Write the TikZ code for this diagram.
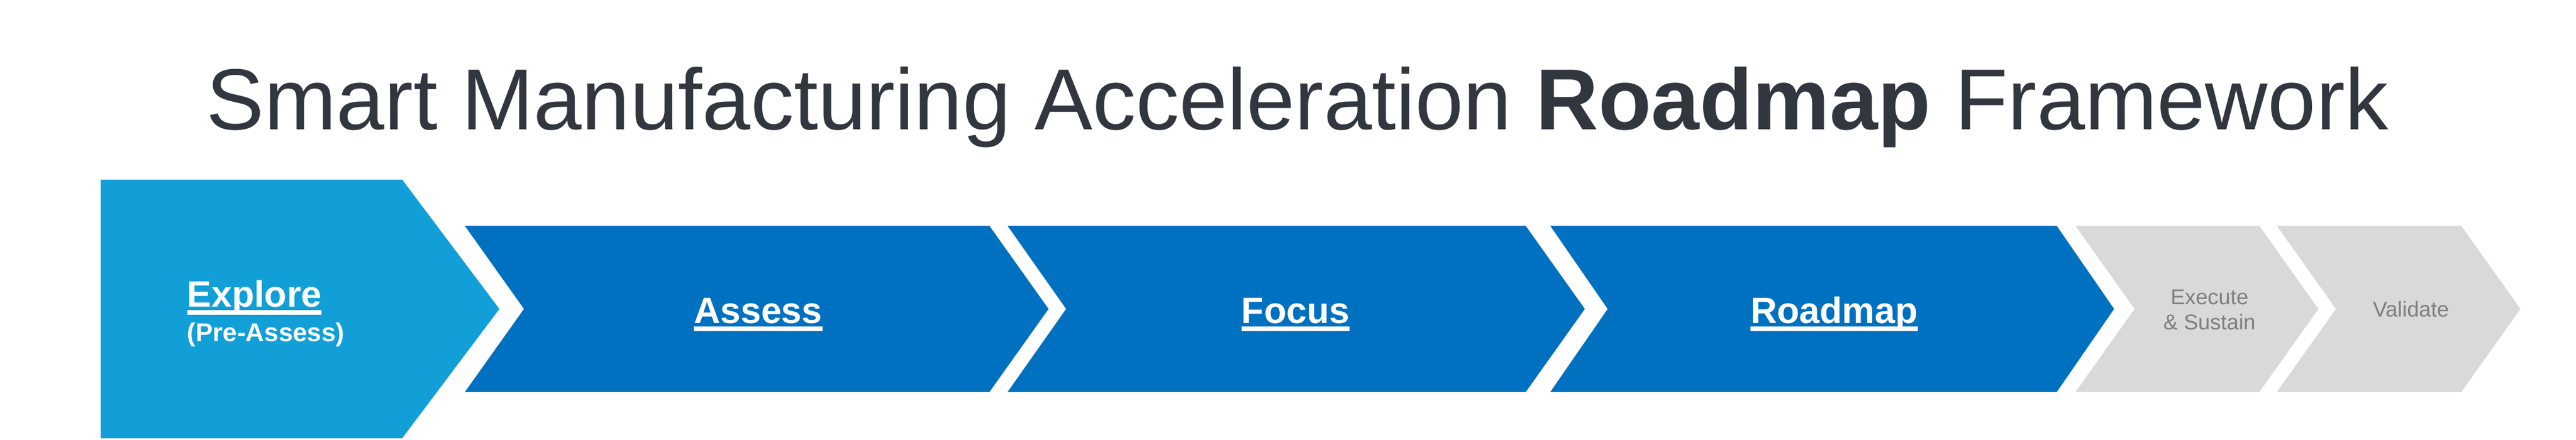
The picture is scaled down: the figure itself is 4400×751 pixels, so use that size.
\documentclass[tikz,border=0pt]{standalone}
\usepackage{fontspec}
\setmainfont{Liberation Sans}
\definecolor{titlecol}{HTML}{31363F}
\definecolor{lightblue}{HTML}{129FD7}
\definecolor{mainblue}{HTML}{0070C0}
\definecolor{greyfill}{HTML}{D9D9D9}
\definecolor{greytext}{HTML}{7F7F7F}
\newcommand{\ulin}[1]{\setbox0\hbox{#1}\rlap{\rule[-0.227em]{\wd0}{0.127em}}\box0}
\tikzset{
  lbl/.style={inner sep=0pt, text=white, font=\bfseries\fontsize{17.8}{21}\selectfont},
  sublbl/.style={inner sep=0pt, text=white, font=\bfseries\fontsize{12.5}{15}\selectfont},
  greylbl/.style={inner sep=0pt, text=greytext, font=\fontsize{10.45}{12.5}\selectfont},
}
\begin{document}
\begin{tikzpicture}[x=0.01cm,y=-0.01cm]
\useasboundingbox (0,0) rectangle (4400,751);
\fill[white] (0,0) rectangle (4400,751);
% title
\node[inner sep=0pt, anchor=base, text=titlecol, font=\fontsize{42.1}{50}\selectfont] (title) at (2216,221)
  {Smart Manufacturing Acceleration \textbf{Roadmap} Framework};
% chevrons
\fill[lightblue] (172,307) -- (687,307) -- (853,528) -- (687,749) -- (172,749) -- cycle;
\fill[mainblue] (794,386) -- (1690,386) -- (1791,528) -- (1690,670) -- (794,670) -- (895,528) -- cycle;
\fill[mainblue] (1721,386) -- (2606,386) -- (2707,528) -- (2606,670) -- (1721,670) -- (1821,528) -- cycle;
\fill[mainblue] (2648,386) -- (3513,386) -- (3611,528) -- (3513,670) -- (2648,670) -- (2746,528) -- cycle;
\fill[greyfill] (3545,386) -- (3859,386) -- (3960,528) -- (3859,670) -- (3545,670) -- (3646,528) -- cycle;
\fill[greyfill] (3889,386) -- (4204,386) -- (4305,528) -- (4204,670) -- (3889,670) -- (3990,528) -- cycle;
% labels
\node[lbl, anchor=base west] (explore) at (319,524) {\ulin{Explore}};
\node[sublbl, anchor=base west] (preassess) at (319,583) {(Pre-Assess)};
\node[lbl, anchor=base] (assess) at (1295,552) {\ulin{Assess}};
\node[lbl, anchor=base] (focus) at (2213,552) {\ulin{Focus}};
\node[lbl, anchor=base] (roadmap) at (3133,552) {\ulin{Roadmap}};
\node[greylbl, anchor=base] (execute) at (3774,520) {Execute};
\node[greylbl, anchor=base] (sustain) at (3774,563) {\& Sustain};
\node[greylbl, anchor=base] (validate) at (4118,541) {Validate};
\end{tikzpicture}
\end{document}
